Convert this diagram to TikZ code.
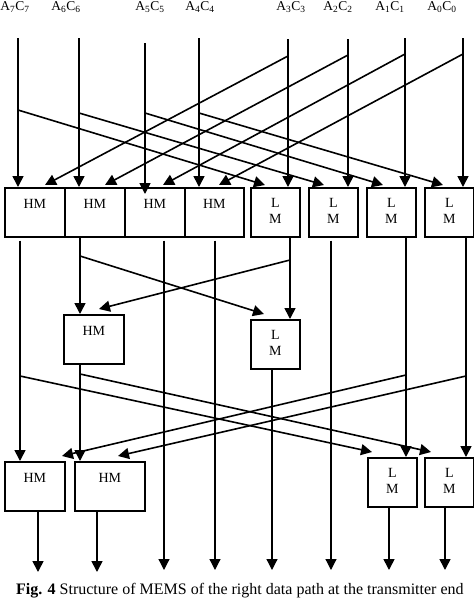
\documentclass[tikz,border=0pt]{standalone}
\usepackage{fontspec}
\setmainfont{Liberation Serif}
\usetikzlibrary{arrows.meta}

\begin{document}
\begin{tikzpicture}[x=1pt,y=-1pt,line width=1.6pt,
    arr/.style={-{Triangle[width=11pt,length=11pt]}},
    thin/.style={line width=1.2pt},
    hmbox/.style={draw,line width=1.6pt,anchor=north west,inner sep=0pt,
        minimum height=49pt,minimum width=#1,text height=21pt,text depth=28pt,
        font=\fontsize{14}{16}\selectfont},
    hmbox/.default=60pt,
    lmbox/.style={draw,line width=1.6pt,anchor=north west,inner sep=0pt,
        minimum height=49pt,minimum width=49pt,text height=20pt,text depth=29pt,
        font=\fontsize{14}{16}\selectfont},
    lab/.style={anchor=base,font=\fontsize{13.5}{15}\selectfont}]
    \useasboundingbox (0,0) rectangle (474,598);

    % 输入信号
    \node[lab] (a7) at (15,10) {A\textsubscript{7}C\textsubscript{7}};
    \node[lab] (a6) at (66,10) {A\textsubscript{6}C\textsubscript{6}};
    \node[lab] (a5) at (150,10) {A\textsubscript{5}C\textsubscript{5}};
    \node[lab] (a4) at (200,10) {A\textsubscript{4}C\textsubscript{4}};
    \node[lab] (a3) at (291,10) {A\textsubscript{3}C\textsubscript{3}};
    \node[lab] (a2) at (338,10) {A\textsubscript{2}C\textsubscript{2}};
    \node[lab] (a1) at (390,10) {A\textsubscript{1}C\textsubscript{1}};
    \node[lab] (a0) at (442,10) {A\textsubscript{0}C\textsubscript{0}};

    % 第一级
    \node[hmbox] (h1) at (4,187) {HM};
    \node[hmbox] (h2) at (64,187) {HM};
    \node[hmbox] (h3) at (124,187) {HM};
    \node[hmbox=59pt] (h4) at (184,187) {HM};
    \node[lmbox] (m1) at (250,187) {\begin{tabular}[t]{@{}c@{}}L\\M\end{tabular}};
    \node[lmbox] (m2) at (308,187) {\begin{tabular}[t]{@{}c@{}}L\\M\end{tabular}};
    \node[lmbox] (m3) at (366,187) {\begin{tabular}[t]{@{}c@{}}L\\M\end{tabular}};
    \node[lmbox] (m4) at (424,187) {\begin{tabular}[t]{@{}c@{}}L\\M\end{tabular}};

    % 第二级
    \node[hmbox] (h5) at (63,314) {HM};
    \node[lmbox] (m5) at (250,319) {\begin{tabular}[t]{@{}c@{}}L\\M\end{tabular}};

    % 第三级
    \node[hmbox] (h6) at (4,461) {HM};
    \node[hmbox=70pt] (h7) at (74,461) {HM};
    \node[lmbox] (m6) at (367,457) {\begin{tabular}[t]{@{}c@{}}L\\M\end{tabular}};
    \node[lmbox] (m7) at (424,457) {\begin{tabular}[t]{@{}c@{}}L\\M\end{tabular}};

    % 输入竖线
    \coordinate (i7) at (18,38);
    \coordinate (i6) at (79,38);
    \coordinate (i5) at (145,43);
    \coordinate (i4) at (199,38);
    \coordinate (i3) at (288,39);
    \coordinate (i2) at (348,39);
    \coordinate (i1) at (405,38);
    \coordinate (i0) at (463,38);
    \draw[arr] (i7) -- (i7 |- h1.north);
    \draw[arr] (i6) -- (i6 |- h2.north);
    \draw[arr,shorten >=-7pt] (i5) -- (i5 |- h3.north);
    \draw[arr] (i4) -- (i4 |- h4.north);
    \draw[arr] (i3) -- (i3 |- m1.north);
    \draw[arr] (i2) -- (i2 |- m2.north);
    \draw[arr] (i1) -- (i1 |- m3.north);
    \draw[arr] (i0) -- (i0 |- m4.north);

    % 交叉线 (第一级)
    \coordinate (r3) at (288,56);
    \coordinate (r2) at (348,55);
    \coordinate (r1) at (405,54);
    \coordinate (r0) at (463,54);
    \coordinate (s1) at (45,185);
    \coordinate (s2) at (105,185);
    \coordinate (s3) at (163,185);
    \coordinate (s4) at (219,185);
    \draw[arr] (r3) -- (s1);
    \draw[arr] (r2) -- (s2);
    \draw[arr] (r1) -- (s3);
    \draw[arr] (r0) -- (s4);
    \coordinate (l7) at (18,110);
    \coordinate (l6) at (79,113);
    \coordinate (l5) at (145,113);
    \coordinate (l4) at (199,113);
    \coordinate (t1) at (265,185);
    \coordinate (t2) at (324,185);
    \coordinate (t3) at (383,185);
    \coordinate (t4) at (443,185);
    \draw[arr] (l7) -- (t1);
    \draw[arr] (l6) -- (t2);
    \draw[arr] (l5) -- (t3);
    \draw[arr] (l4) -- (t4);

    % 第一级输出
    \coordinate (c1) at (20,376);
    \coordinate (c2) at (80,256);
    \coordinate (c5) at (290,260);
    \coordinate (c7) at (406,375);
    \coordinate (c8) at (466,376);
    \coordinate (e3) at (164,570);
    \coordinate (e4) at (215,570);
    \coordinate (e6) at (331,570);
    \draw[arr,shorten <=3pt] (c1 |- h1.south) -- (c1 |- h6.north);
    \draw[arr] (c2 |- h2.south) -- (c2 |- h5.north);
    \draw[arr,thin,shorten <=3pt] (e3 |- h3.south) -- (e3);
    \draw[arr,thin,shorten <=3pt] (e4 |- h4.south) -- (e4);
    \draw[arr] (c5 |- m1.south) -- (c5 |- m5.north);
    \draw[arr,thin,shorten <=3pt] (e6 |- m2.south) -- (e6);
    \draw[arr] (c7 |- m3.south) -- (c7 |- m6.north);
    \draw[arr] (c8 |- m4.south) -- (c8 |- m7.north);

    % 交叉线 (第二级)
    \coordinate (u1) at (264,314);
    \coordinate (u2) at (99,309);
    \draw[arr] (c2) -- (u1);
    \draw[arr] (c5) -- (u2);

    % 第二级输出
    \coordinate (c9) at (80,374);
    \coordinate (e10) at (272,570);
    \draw[arr] (c9 |- h5.south) -- (c9 |- h7.north);
    \draw[arr,thin] (e10 |- m5.south) -- (e10);

    % 交叉线 (第三级)
    \coordinate (v1) at (62,456);
    \coordinate (v2) at (118,456);
    \coordinate (v3) at (372,452);
    \coordinate (v4) at (431,452);
    \draw[arr] (c7) -- (v1);
    \draw[arr] (c8) -- (v2);
    \draw[arr] (c1) -- (v3);
    \draw[arr] (c9) -- (v4);

    % 输出
    \coordinate (e11) at (38,572);
    \coordinate (e12) at (97,572);
    \coordinate (e13) at (389,570);
    \coordinate (e14) at (445,570);
    \draw[arr] (e11 |- h6.south) -- (e11);
    \draw[arr] (e12 |- h7.south) -- (e12);
    \draw[arr] (e13 |- m6.south) -- (e13);
    \draw[arr] (e14 |- m7.south) -- (e14);

    \node[anchor=base west,font=\fontsize{16}{18}\selectfont] (cap) at (12,594)
        {\textbf{Fig. 4} Structure of MEMS of the right data path at the transmitter end};
\end{tikzpicture}
\end{document}
